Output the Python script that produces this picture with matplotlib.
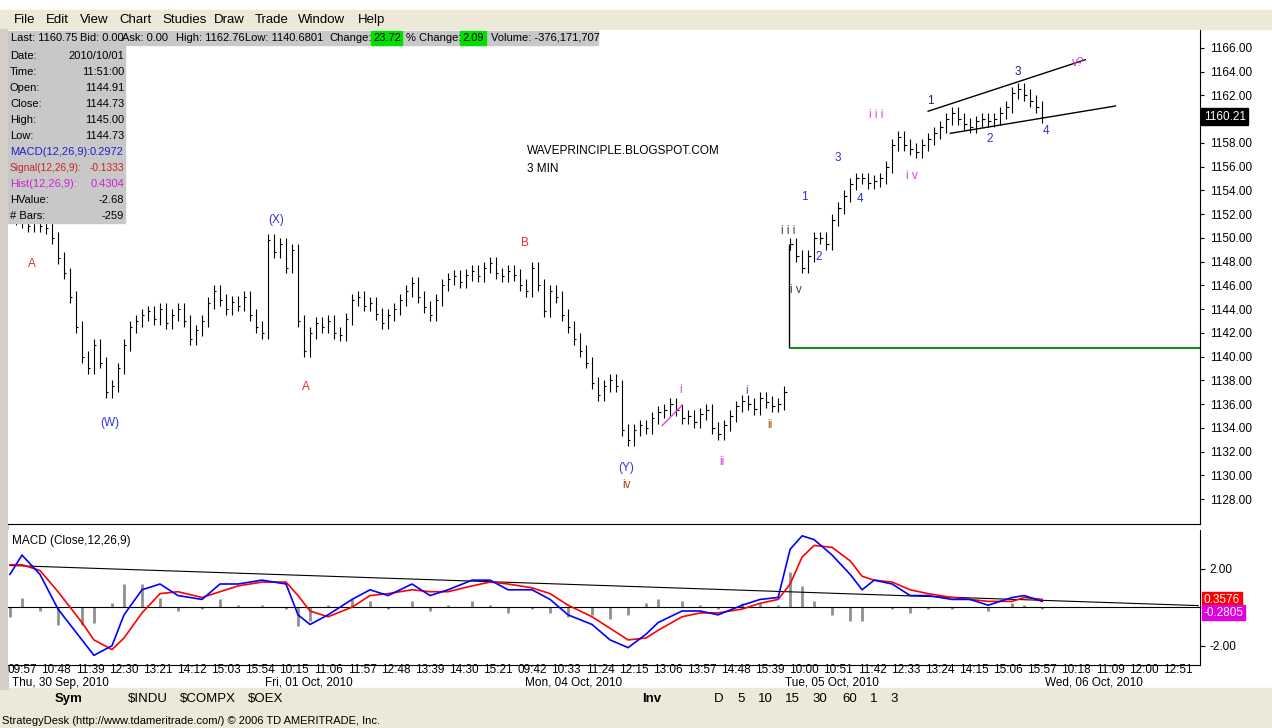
import numpy as np
import matplotlib
matplotlib.use('Agg')
import matplotlib.pyplot as plt
from matplotlib.patches import Rectangle

plt.rcParams['font.family'] = ['Liberation Sans', 'DejaVu Sans']

W, H = 1272, 728

# closes, 3-min bars (Sep 30 .. Oct 04, then Oct 05)
closes_a = [1152.0, 1151.6, 1151.3, 1151.0, 1151.3, 1151.0, 1150.8, 1150.0, 1148.3, 1147.0,
            1145.0, 1142.5, 1140.0, 1139.0, 1141.0, 1139.5, 1137.0, 1137.5, 1139.0, 1141.0,
            1142.5, 1143.0, 1143.5, 1143.8, 1143.2, 1144.0, 1142.8, 1143.5, 1144.0, 1143.0,
            1141.5, 1142.2, 1143.0, 1144.5, 1145.5, 1144.8, 1144.0, 1144.6, 1144.3, 1145.0,
            1143.5, 1142.5, 1142.0, 1149.8, 1148.8, 1149.5, 1147.5, 1149.0, 1143.0, 1140.5,
            1142.0, 1142.8, 1142.5, 1143.0, 1142.0, 1141.8, 1143.2, 1144.8, 1145.0, 1144.3,
            1144.5, 1143.6, 1142.8, 1143.5, 1144.0, 1144.8, 1145.5, 1146.2, 1145.0, 1144.2,
            1143.5, 1144.8, 1146.0, 1146.5, 1146.8, 1146.3, 1146.9, 1147.2, 1146.8, 1147.5,
            1147.9, 1147.0, 1146.8, 1147.2, 1146.9, 1146.0, 1145.5, 1147.5, 1146.0, 1143.8,
            1145.5, 1145.0, 1143.5, 1142.5, 1141.5, 1140.5, 1139.5, 1137.8, 1136.8, 1137.5,
            1138.0, 1137.5, 1133.8, 1133.0, 1133.8, 1134.2, 1134.0, 1134.8, 1135.3, 1135.5,
            1136.0, 1135.5, 1134.8, 1135.0, 1134.5, 1135.2, 1135.5, 1134.0, 1133.5, 1134.2,
            1135.0, 1135.8, 1136.3, 1136.0, 1135.6, 1136.5, 1136.2, 1135.8, 1136.0, 1137.0]
closes_b = [1149.5, 1148.5, 1147.5, 1148.5, 1150.0, 1150.0, 1149.5, 1151.5, 1152.5, 1153.5,
            1154.5, 1155.0, 1155.0, 1154.6, 1154.8, 1155.0, 1156.0, 1157.8, 1158.5, 1157.8,
            1157.5, 1157.2, 1157.8, 1158.3, 1158.8, 1159.3, 1160.0, 1160.5, 1160.0, 1159.6,
            1159.3, 1159.8, 1160.0, 1159.8, 1160.0, 1160.5, 1161.0, 1162.2, 1162.5, 1162.0,
            1161.5, 1161.0, 1160.2]
closes = closes_a + closes_b

macd_idx = [0, 2, 5, 8, 12, 14, 17, 19, 22, 25, 28, 32, 35, 38, 42, 46, 48, 50, 53, 57, 60, 63,
            67, 70, 73, 77, 80, 83, 87, 90, 93, 97, 100, 103, 106, 108, 112, 115, 118, 122, 125,
            128, 130, 132, 134, 137, 140, 142, 144, 147, 150, 153, 157, 160, 163, 167, 169, 172]
macd = [1.7, 2.7, 1.7, -0.1, -1.7, -2.5, -2.0, -0.4, 0.9, 1.2, 0.6, 0.4, 1.2, 1.2, 1.4, 1.2, -0.4,
        -0.9, -0.4, 0.4, 0.9, 0.6, 1.2, 0.6, 0.9, 1.4, 1.4, 0.9, 0.9, 0.4, -0.4, -0.9, -1.7, -2.1,
        -1.4, -0.8, -0.2, -0.2, -0.4, 0.1, 0.4, 0.5, 3.0, 3.7, 3.5, 2.7, 1.7, 0.9, 1.4, 1.2, 0.6,
        0.6, 0.4, 0.4, 0.1, 0.5, 0.6, 0.3]
signal = [2.2, 2.2, 1.9, 0.8, -0.8, -1.7, -2.2, -1.6, -0.3, 0.7, 0.8, 0.5, 0.8, 1.1, 1.3, 1.3, 0.6,
          -0.2, -0.5, 0.0, 0.6, 0.7, 0.9, 0.8, 0.8, 1.1, 1.3, 1.2, 1.0, 0.7, 0.1, -0.5, -1.1, -1.7,
          -1.6, -1.2, -0.5, -0.3, -0.3, -0.1, 0.2, 0.4, 1.2, 2.6, 3.2, 3.1, 2.4, 1.6, 1.4, 1.3, 0.9,
          0.7, 0.5, 0.4, 0.3, 0.3, 0.5, 0.4]

time_labels = ['09:57', '10:48', '11:39', '12:30', '13:21', '14:12', '15:03', '15:54', '10:15',
               '11:06', '11:57', '12:48', '13:39', '14:30', '15:21', '09:42', '10:33', '11:24',
               '12:15', '13:06', '13:57', '14:48', '15:39', '10:00', '10:51', '11:42', '12:33',
               '13:24', '14:15', '15:06', '15:57', '10:18', '11:09', '12:00', '12:51']
date_labels = ['Thu, 30 Sep, 2010', 'Fri, 01 Oct, 2010', 'Mon, 04 Oct, 2010',
               'Tue, 05 Oct, 2010', 'Wed, 06 Oct, 2010']
date_idx = [0.3, 42.5, 85.8, 129.2, 172.5]

# wave labels: text, bar index, price, colour
waves = [('A', 3.7, 1147.8, '#e03030'), ('(W)', 16.7, 1134.4, '#3030e0'),
         ('(X)', 44.3, 1151.5, '#3030e0'), ('A', 49.3, 1137.4, '#e03030'),
         ('B', 85.8, 1149.6, '#e03030'), ('(Y)', 102.7, 1130.6, '#3030e0'),
         ('iv', 102.7, 1129.2, '#c04010'), ('i', 111.7, 1137.2, '#e040e0'),
         ('ii', 118.7, 1131.1, '#e040e0'), ('i', 122.7, 1137.1, '#3060c0'),
         ('ii', 126.7, 1134.2, '#a06000'), ('i i i', 129.7, 1150.6, '#404040'),
         ('i v', 131.0, 1145.6, '#404040'), ('1', 132.3, 1153.4, '#3030e0'),
         ('2', 134.7, 1148.4, '#3030e0'), ('3', 138.0, 1156.7, '#3030e0'),
         ('4', 141.7, 1153.3, '#3030e0'), ('i i i', 144.3, 1160.3, '#e040e0'),
         ('i v', 150.3, 1155.2, '#e040e0'), ('1', 153.3, 1161.5, '#202080'),
         ('2', 163.3, 1158.3, '#3030e0'), ('3', 168.0, 1164.0, '#202080'),
         ('4', 172.7, 1159.0, '#3030e0'), ('v?', 178.0, 1164.7, '#e040e0')]

upper_line = ([153, 179.2], [1160.66, 1165.0])
lower_line = ([156.7, 184.2], [1158.8, 1161.1])
macd_trend = ([0, 198], [2.16, 0.08])


def px(l, t, r, b):
    return [l / W, 1 - b / H, (r - l) / W, (b - t) / H]


fig = plt.figure(figsize=(W / 100, H / 100), dpi=100)
fig.patch.set_facecolor('white')
XL = (-0.33, 198.3)

# background chrome
bg = fig.add_axes([0, 0, 1, 1]); bg.set_xlim(0, W); bg.set_ylim(H, 0); bg.axis('off')
bg.add_patch(Rectangle((0, 10), W, 19, color='#ece9d8'))
bg.add_patch(Rectangle((0, 688), W, 40, color='#ece9d8'))
bg.add_patch(Rectangle((0, 29), 8, 660, color='#d4d0c8'))
menus = ['File', 'Edit', 'View', 'Chart', 'Studies', 'Draw', 'Trade', 'Window', 'Help']
mx = [14, 46, 80, 119, 162, 214, 255, 298, 358]
for m_, x in zip(menus, mx):
    bg.text(x, 20, m_, fontsize=9.5, va='center')
bg.text(2, 721, 'StrategyDesk (http://www.tdameritrade.com/) © 2006 TD AMERITRADE, Inc.', fontsize=8, va='center')
tabs = ['Sym', '$INDU', '$COMPX', '$OEX']
for t, x in zip(tabs, [55, 128, 180, 248]):
    bg.text(x, 699, t, fontsize=9.5, va='center', fontweight='bold' if t == 'Sym' else 'normal')
bg.text(642, 699, 'Inv', fontsize=9.5, va='center', fontweight='bold')
for t, x in zip(['D', '5', '10', '15', '30', '60', '1', '3'], [714, 737, 758, 785, 812, 842, 870, 890]):
    bg.text(x, 699, t, fontsize=9.5, va='center')

# price panel
ax = fig.add_axes(px(8, 30, 1200, 524))
gap = len(closes_a)
for i, c in enumerate(closes):
    o = closes[i - 1] if i > 0 and i != gap else c
    hi = max(o, c) + 0.5
    lo = min(o, c) - 0.5
    ax.vlines(i, lo, hi, color='black', lw=0.8)
    ax.hlines(c, i, i + 0.4, color='black', lw=0.8)
ax.vlines(gap - 0.2, 1140.7, 1149.5, color='black', lw=1)
ax.hlines(1140.7, gap - 0.2, XL[1], color='#1a8a1a', lw=1.5)
ax.plot(*upper_line, color='black', lw=1)
ax.plot(*lower_line, color='black', lw=1)
ax.plot([108.7, 112], [1134.2, 1135.9], color='#e040e0', lw=1)
for t, x, y, c in waves:
    ax.text(x, y, t, color=c, fontsize=8.5, ha='center', va='center', zorder=5)
ax.text(0.435, 0.767, 'WAVEPRINCIPLE.BLOGSPOT.COM\n3 MIN', transform=ax.transAxes,
        fontsize=8.5, va='top', linespacing=1.6)
ax.set_xlim(*XL); ax.set_ylim(1125.9, 1167.5)
ax.yaxis.tick_right()
yt = np.arange(1128, 1167, 2)
ax.set_yticks(yt)
ax.set_yticklabels(['' if v == 1160 else f'{v:.2f}' for v in yt], fontsize=8.5)
ax.tick_params(axis='y', length=3, pad=4)
ax.set_xticks([])
ax.text(1.003, (1160.21 - 1125.9) / (1167.5 - 1125.9), '1160.21', transform=ax.transAxes,
        fontsize=8.5, color='white', va='center', zorder=10,
        bbox=dict(boxstyle='square,pad=0.2', fc='black', ec='black'))
for s in ['top', 'left']:
    ax.spines[s].set_visible(False)

# MACD panel
m = fig.add_axes(px(8, 530, 1200, 665))
hist = np.array(macd) - np.array(signal)
m.vlines(macd_idx, 0, hist, color='#909090', lw=2)
m.axhline(0, color='black', lw=0.8)
m.plot(*macd_trend, color='black', lw=0.8)
m.plot(macd_idx, signal, color='red', lw=1.2)
m.plot(macd_idx, macd, color='blue', lw=1.2)
m.set_xlim(*XL); m.set_ylim(-3.0, 4.0)
m.yaxis.tick_right()
m.set_yticks([-2, 2]); m.set_yticklabels(['-2.00', '2.00'], fontsize=8.5)
m.set_xticks([])
m.text(0.003, 0.96, 'MACD (Close,12,26,9)', transform=m.transAxes, fontsize=8.5, va='top')
m.text(1.003, (0.36 + 3) / 7, '0.3576', transform=m.transAxes, fontsize=8.5, color='white', va='center',
       bbox=dict(boxstyle='square,pad=0.15', fc='red', ec='red'))
m.text(1.003, (-0.28 + 3) / 7, '-0.2805', transform=m.transAxes, fontsize=8.5, color='white', va='center',
       bbox=dict(boxstyle='square,pad=0.15', fc='#e000e0', ec='#e000e0'))
for s in ['top', 'left']:
    m.spines[s].set_visible(False)

# time axis
ta = fig.add_axes(px(8, 665, 1200, 688))
ta.set_xlim(*XL); ta.set_ylim(0, 1); ta.axis('off')
for k, t in enumerate(time_labels):
    ta.text(2 + k * 5.667, 0.78, t, fontsize=8.5, ha='center', va='center')
for t, x in zip(date_labels, date_idx):
    ta.text(x, 0.22, t, fontsize=8.5, ha='left', va='center')

# overlay: status bar and info box on top of the price panel
ov = fig.add_axes([0, 0, 1, 1]); ov.set_xlim(0, W); ov.set_ylim(H, 0); ov.axis('off')
ov.patch.set_alpha(0)
ov.add_patch(Rectangle((8, 31), 590, 14, color='#c8c8c8'))
bar_items = [('Last: 1160.75', None), ('Bid: 0.00', None), ('Ask: 0.00', None),
             ('High: 1162.76', None), ('Low: 1140.6801', None), ('Change:', None),
             ('23.72', '#00e000'), ('% Change:', None), ('2.09', '#00e000'), ('Volume: -376,171,707', None)]
bx = [11, 80, 122, 176, 245, 329, 373, 406, 462, 491]
for (t, c), x in zip(bar_items, bx):
    if c:
        ov.add_patch(Rectangle((x - 2, 31), 31 if len(t) > 4 else 26, 14, color=c))
    ov.text(x, 38, t, fontsize=8, va='center')
ov.add_patch(Rectangle((8, 46), 117, 177, color='#c8c8c8'))
info = [('Date:', '2010/10/01', 'black'), ('Time:', '11:51:00', 'black'), ('Open:', '1144.91', 'black'),
        ('Close:', '1144.73', 'black'), ('High:', '1145.00', 'black'), ('Low:', '1144.73', 'black'),
        ('MACD(12,26,9):', '0.2972', '#2020d0'), ('Signal(12,26,9):', '-0.1333', '#d02020'),
        ('Hist(12,26,9):', '0.4304', '#d020d0'), ('HValue:', '-2.68', 'black'), ('# Bars:', '-259', 'black')]
for k, (a, b, c) in enumerate(info):
    y = 56 + k * 16
    fs = 7.3 if a.startswith('Signal') else 8
    ov.text(10, y, a, fontsize=fs, va='center', color=c)
    ov.text(124, y, b, fontsize=fs, va='center', ha='right', color=c)

fig.savefig('out.png', dpi=100)
